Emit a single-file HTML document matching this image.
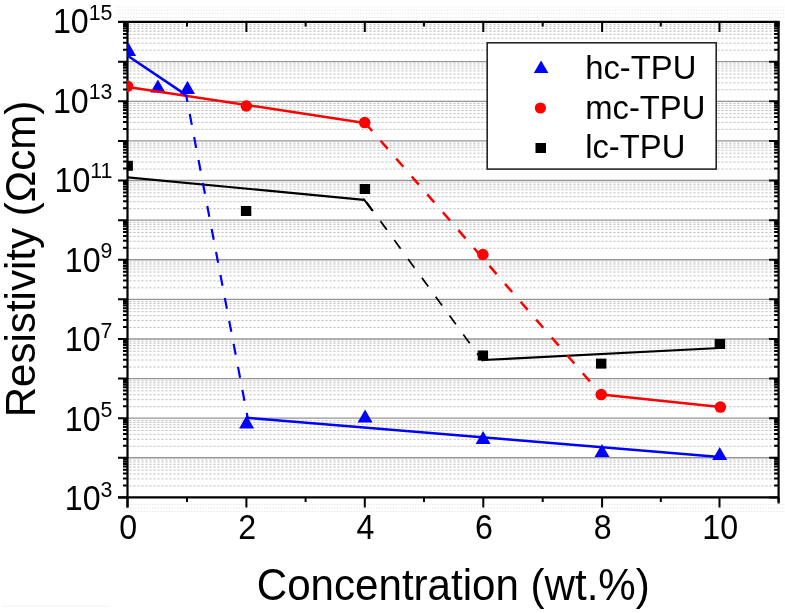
<!DOCTYPE html><html><head><meta charset="utf-8"><style>html,body{margin:0;padding:0;background:#fff}svg{display:block;filter:blur(0.35px)}</style></head><body>
<svg width="785" height="613" viewBox="0 0 785 613" font-family="'Liberation Sans', Arial, sans-serif">
<defs><clipPath id="pa"><rect x="127.10" y="21.90" width="651.50" height="475.50"/></clipPath></defs>
<rect width="785" height="613" fill="#fff"/>
<path d="M116.5 6.9H785M116.5 10.1H785M116.5 13.3H785M116.5 17.4H785M124.0 504.5H785M124.0 508.0H785M124.0 511.5H785M3 606.2H110" stroke="#e6e6e6" stroke-width="1" stroke-dasharray="1.3 1.5" fill="none"/>
<path d="M129.50 485.88H776.60M129.50 478.90H776.60M129.50 473.95H776.60M129.50 470.11H776.60M129.50 466.98H776.60M129.50 464.33H776.60M129.50 462.03H776.60M129.50 460.00H776.60M129.50 446.27H776.60M129.50 439.29H776.60M129.50 434.34H776.60M129.50 430.50H776.60M129.50 427.37H776.60M129.50 424.72H776.60M129.50 422.42H776.60M129.50 420.39H776.60M129.50 406.66H776.60M129.50 399.68H776.60M129.50 394.73H776.60M129.50 390.89H776.60M129.50 387.76H776.60M129.50 385.11H776.60M129.50 382.81H776.60M129.50 380.78H776.60M129.50 367.05H776.60M129.50 360.07H776.60M129.50 355.12H776.60M129.50 351.28H776.60M129.50 348.15H776.60M129.50 345.50H776.60M129.50 343.20H776.60M129.50 341.17H776.60M129.50 327.44H776.60M129.50 320.46H776.60M129.50 315.51H776.60M129.50 311.67H776.60M129.50 308.54H776.60M129.50 305.89H776.60M129.50 303.59H776.60M129.50 301.56H776.60M129.50 287.83H776.60M129.50 280.85H776.60M129.50 275.90H776.60M129.50 272.06H776.60M129.50 268.93H776.60M129.50 266.28H776.60M129.50 263.98H776.60M129.50 261.95H776.60M129.50 248.22H776.60M129.50 241.24H776.60M129.50 236.29H776.60M129.50 232.45H776.60M129.50 229.32H776.60M129.50 226.67H776.60M129.50 224.37H776.60M129.50 222.34H776.60M129.50 208.61H776.60M129.50 201.63H776.60M129.50 196.68H776.60M129.50 192.84H776.60M129.50 189.71H776.60M129.50 187.06H776.60M129.50 184.76H776.60M129.50 182.73H776.60M129.50 169.00H776.60M129.50 162.02H776.60M129.50 157.07H776.60M129.50 153.23H776.60M129.50 150.10H776.60M129.50 147.45H776.60M129.50 145.15H776.60M129.50 143.12H776.60M129.50 129.39H776.60M129.50 122.41H776.60M129.50 117.46H776.60M129.50 113.62H776.60M129.50 110.49H776.60M129.50 107.84H776.60M129.50 105.54H776.60M129.50 103.51H776.60M129.50 89.78H776.60M129.50 82.80H776.60M129.50 77.85H776.60M129.50 74.01H776.60M129.50 70.88H776.60M129.50 68.23H776.60M129.50 65.93H776.60M129.50 63.90H776.60M129.50 50.17H776.60M129.50 43.19H776.60M129.50 38.24H776.60M129.50 34.40H776.60M129.50 31.27H776.60M129.50 28.62H776.60M129.50 26.32H776.60M129.50 24.29H776.60" stroke="#b9b9b9" stroke-width="1" stroke-dasharray="2 2" fill="none"/>
<path d="M127.50 457.79H778.60M127.50 418.18H778.60M127.50 378.57H778.60M127.50 338.96H778.60M127.50 299.35H778.60M127.50 259.74H778.60M127.50 220.13H778.60M127.50 180.52H778.60M127.50 140.91H778.60M127.50 101.30H778.60M127.50 61.69H778.60" stroke="#959595" stroke-width="1.35" fill="none"/>
<rect x="487.2" y="42.8" width="229.0" height="126.3" fill="#fff" stroke="#262626" stroke-width="1.6"/>
<path d="M119.10 21.90H778.60M119.10 497.40H778.60M127.50 21.90V506.40M778.60 21.90V502.40" stroke="#000" stroke-width="2.2" fill="none" stroke-linecap="square"/>
<path d="M127.50 497.40V507.40M127.50 21.90V31.90M187.00 497.40V501.90M187.00 21.90V26.40M246.40 497.40V507.40M246.40 21.90V31.90M305.60 497.40V501.90M305.60 21.90V26.40M364.80 497.40V507.40M364.80 21.90V31.90M424.00 497.40V501.90M424.00 21.90V26.40M483.30 497.40V507.40M483.30 21.90V31.90M542.70 497.40V501.90M542.70 21.90V26.40M602.10 497.40V507.40M602.10 21.90V31.90M660.80 497.40V501.90M660.80 21.90V26.40M719.50 497.40V507.40M719.50 21.90V31.90M778.60 497.40V501.90M778.60 21.90V26.40M127.50 497.40H118.00M778.60 497.40H769.10M127.50 485.48H123.00M778.60 485.48H774.10M127.50 478.50H123.00M778.60 478.50H774.10M127.50 473.55H123.00M778.60 473.55H774.10M127.50 469.71H123.00M778.60 469.71H774.10M127.50 466.58H123.00M778.60 466.58H774.10M127.50 463.93H123.00M778.60 463.93H774.10M127.50 461.63H123.00M778.60 461.63H774.10M127.50 459.60H123.00M778.60 459.60H774.10M127.50 457.79H118.00M778.60 457.79H769.10M127.50 445.87H123.00M778.60 445.87H774.10M127.50 438.89H123.00M778.60 438.89H774.10M127.50 433.94H123.00M778.60 433.94H774.10M127.50 430.10H123.00M778.60 430.10H774.10M127.50 426.97H123.00M778.60 426.97H774.10M127.50 424.32H123.00M778.60 424.32H774.10M127.50 422.02H123.00M778.60 422.02H774.10M127.50 419.99H123.00M778.60 419.99H774.10M127.50 418.18H118.00M778.60 418.18H769.10M127.50 406.26H123.00M778.60 406.26H774.10M127.50 399.28H123.00M778.60 399.28H774.10M127.50 394.33H123.00M778.60 394.33H774.10M127.50 390.49H123.00M778.60 390.49H774.10M127.50 387.36H123.00M778.60 387.36H774.10M127.50 384.71H123.00M778.60 384.71H774.10M127.50 382.41H123.00M778.60 382.41H774.10M127.50 380.38H123.00M778.60 380.38H774.10M127.50 378.57H118.00M778.60 378.57H769.10M127.50 366.65H123.00M778.60 366.65H774.10M127.50 359.67H123.00M778.60 359.67H774.10M127.50 354.72H123.00M778.60 354.72H774.10M127.50 350.88H123.00M778.60 350.88H774.10M127.50 347.75H123.00M778.60 347.75H774.10M127.50 345.10H123.00M778.60 345.10H774.10M127.50 342.80H123.00M778.60 342.80H774.10M127.50 340.77H123.00M778.60 340.77H774.10M127.50 338.96H118.00M778.60 338.96H769.10M127.50 327.04H123.00M778.60 327.04H774.10M127.50 320.06H123.00M778.60 320.06H774.10M127.50 315.11H123.00M778.60 315.11H774.10M127.50 311.27H123.00M778.60 311.27H774.10M127.50 308.14H123.00M778.60 308.14H774.10M127.50 305.49H123.00M778.60 305.49H774.10M127.50 303.19H123.00M778.60 303.19H774.10M127.50 301.16H123.00M778.60 301.16H774.10M127.50 299.35H118.00M778.60 299.35H769.10M127.50 287.43H123.00M778.60 287.43H774.10M127.50 280.45H123.00M778.60 280.45H774.10M127.50 275.50H123.00M778.60 275.50H774.10M127.50 271.66H123.00M778.60 271.66H774.10M127.50 268.53H123.00M778.60 268.53H774.10M127.50 265.88H123.00M778.60 265.88H774.10M127.50 263.58H123.00M778.60 263.58H774.10M127.50 261.55H123.00M778.60 261.55H774.10M127.50 259.74H118.00M778.60 259.74H769.10M127.50 247.82H123.00M778.60 247.82H774.10M127.50 240.84H123.00M778.60 240.84H774.10M127.50 235.89H123.00M778.60 235.89H774.10M127.50 232.05H123.00M778.60 232.05H774.10M127.50 228.92H123.00M778.60 228.92H774.10M127.50 226.27H123.00M778.60 226.27H774.10M127.50 223.97H123.00M778.60 223.97H774.10M127.50 221.94H123.00M778.60 221.94H774.10M127.50 220.13H118.00M778.60 220.13H769.10M127.50 208.21H123.00M778.60 208.21H774.10M127.50 201.23H123.00M778.60 201.23H774.10M127.50 196.28H123.00M778.60 196.28H774.10M127.50 192.44H123.00M778.60 192.44H774.10M127.50 189.31H123.00M778.60 189.31H774.10M127.50 186.66H123.00M778.60 186.66H774.10M127.50 184.36H123.00M778.60 184.36H774.10M127.50 182.33H123.00M778.60 182.33H774.10M127.50 180.52H118.00M778.60 180.52H769.10M127.50 168.60H123.00M778.60 168.60H774.10M127.50 161.62H123.00M778.60 161.62H774.10M127.50 156.67H123.00M778.60 156.67H774.10M127.50 152.83H123.00M778.60 152.83H774.10M127.50 149.70H123.00M778.60 149.70H774.10M127.50 147.05H123.00M778.60 147.05H774.10M127.50 144.75H123.00M778.60 144.75H774.10M127.50 142.72H123.00M778.60 142.72H774.10M127.50 140.91H118.00M778.60 140.91H769.10M127.50 128.99H123.00M778.60 128.99H774.10M127.50 122.01H123.00M778.60 122.01H774.10M127.50 117.06H123.00M778.60 117.06H774.10M127.50 113.22H123.00M778.60 113.22H774.10M127.50 110.09H123.00M778.60 110.09H774.10M127.50 107.44H123.00M778.60 107.44H774.10M127.50 105.14H123.00M778.60 105.14H774.10M127.50 103.11H123.00M778.60 103.11H774.10M127.50 101.30H118.00M778.60 101.30H769.10M127.50 89.38H123.00M778.60 89.38H774.10M127.50 82.40H123.00M778.60 82.40H774.10M127.50 77.45H123.00M778.60 77.45H774.10M127.50 73.61H123.00M778.60 73.61H774.10M127.50 70.48H123.00M778.60 70.48H774.10M127.50 67.83H123.00M778.60 67.83H774.10M127.50 65.53H123.00M778.60 65.53H774.10M127.50 63.50H123.00M778.60 63.50H774.10M127.50 61.69H118.00M778.60 61.69H769.10M127.50 49.77H123.00M778.60 49.77H774.10M127.50 42.79H123.00M778.60 42.79H774.10M127.50 37.84H123.00M778.60 37.84H774.10M127.50 34.00H123.00M778.60 34.00H774.10M127.50 30.87H123.00M778.60 30.87H774.10M127.50 28.22H123.00M778.60 28.22H774.10M127.50 25.92H123.00M778.60 25.92H774.10M127.50 23.89H123.00M778.60 23.89H774.10M127.50 22.08H118.00M778.60 22.08H769.10" stroke="#000" stroke-width="2" fill="none"/>
<g clip-path="url(#pa)" fill="none" stroke-linecap="butt">
<path d="M128.60 42.70L136.10 55.90L121.10 55.90Z" fill="#0000ff" stroke="none"/>
<path d="M157.90 79.40L165.40 92.60L150.40 92.60Z" fill="#0000ff" stroke="none"/>
<path d="M187.50 80.70L195.00 93.90L180.00 93.90Z" fill="#0000ff" stroke="none"/>
<path d="M246.60 415.20L254.10 428.40L239.10 428.40Z" fill="#0000ff" stroke="none"/>
<path d="M365.10 409.40L372.60 422.60L357.60 422.60Z" fill="#0000ff" stroke="none"/>
<path d="M483.10 430.90L490.60 444.10L475.60 444.10Z" fill="#0000ff" stroke="none"/>
<path d="M602.00 443.90L609.50 457.10L594.50 457.10Z" fill="#0000ff" stroke="none"/>
<path d="M719.70 446.90L727.20 460.10L712.20 460.10Z" fill="#0000ff" stroke="none"/>
<path d="M127.70 177.40 L364.00 199.80" stroke="#000000" stroke-width="2.20"/>
<path d="M364.00 198.60 L482.90 361.30" stroke="#000000" stroke-width="1.70" stroke-dasharray="10.8 12.6" stroke-dashoffset="18.90"/>
<path d="M363.00 199.30 L364.00 199.40 L372.30 210.70" stroke="#000000" stroke-width="2.00"/>
<path d="M482.90 360.00 L719.90 348.00" stroke="#000000" stroke-width="2.20"/>
<rect x="122.50" y="160.80" width="10.4" height="10" fill="#000000" stroke="none"/>
<rect x="240.90" y="206.00" width="10.4" height="10" fill="#000000" stroke="none"/>
<rect x="359.70" y="184.00" width="10.4" height="10" fill="#000000" stroke="none"/>
<rect x="477.70" y="350.50" width="10.4" height="10" fill="#000000" stroke="none"/>
<rect x="596.00" y="358.60" width="10.4" height="10" fill="#000000" stroke="none"/>
<rect x="714.70" y="339.00" width="10.4" height="10" fill="#000000" stroke="none"/>
<path d="M127.70 86.90 L364.70 122.90" stroke="#ff0000" stroke-width="2.50"/>
<path d="M364.70 122.40 L601.20 394.40" stroke="#ff0000" stroke-width="2.50" stroke-dasharray="10.8 12.9" stroke-dashoffset="23.10"/>
<path d="M601.20 394.40 L720.40 406.90" stroke="#ff0000" stroke-width="2.50"/>
<circle cx="127.70" cy="86.20" r="5.75" fill="#ff0000" stroke="none"/>
<circle cx="246.30" cy="106.00" r="5.75" fill="#ff0000" stroke="none"/>
<circle cx="364.70" cy="122.60" r="5.75" fill="#ff0000" stroke="none"/>
<circle cx="482.90" cy="254.50" r="5.75" fill="#ff0000" stroke="none"/>
<circle cx="601.20" cy="394.60" r="5.75" fill="#ff0000" stroke="none"/>
<circle cx="720.40" cy="407.10" r="5.75" fill="#ff0000" stroke="none"/>
<path d="M127.70 55.80 L185.50 94.60" stroke="#0000ff" stroke-width="2.50"/>
<path d="M186.00 94.50 L247.70 417.70" stroke="#0000ff" stroke-width="2.20" stroke-dasharray="11 12.4" stroke-dashoffset="3.50"/>
<path d="M246.60 417.70 L719.70 457.00" stroke="#0000ff" stroke-width="2.50"/>
</g>
<g font-size="32.2" fill="#000">
<text transform="translate(128.20 539.2) scale(1 1.065)" text-anchor="middle">0</text>
<text transform="translate(247.10 539.2) scale(1 1.065)" text-anchor="middle">2</text>
<text transform="translate(365.50 539.2) scale(1 1.065)" text-anchor="middle">4</text>
<text transform="translate(484.00 539.2) scale(1 1.065)" text-anchor="middle">6</text>
<text transform="translate(602.80 539.2) scale(1 1.065)" text-anchor="middle">8</text>
<text transform="translate(720.20 539.2) scale(1 1.065)" text-anchor="middle">10</text>
<text transform="translate(112.4 510.30) scale(1 1.065)" text-anchor="end">10<tspan font-size="21.3" dy="-12.77">3</tspan></text>
<text transform="translate(112.4 430.74) scale(1 1.065)" text-anchor="end">10<tspan font-size="21.3" dy="-12.77">5</tspan></text>
<text transform="translate(112.4 351.18) scale(1 1.065)" text-anchor="end">10<tspan font-size="21.3" dy="-12.77">7</tspan></text>
<text transform="translate(112.4 271.62) scale(1 1.065)" text-anchor="end">10<tspan font-size="21.3" dy="-12.77">9</tspan></text>
<text transform="translate(112.4 192.06) scale(1 1.065)" text-anchor="end">10<tspan font-size="21.3" dy="-12.77">11</tspan></text>
<text transform="translate(112.4 112.50) scale(1 1.065)" text-anchor="end">10<tspan font-size="21.3" dy="-12.77">13</tspan></text>
<text transform="translate(112.4 32.94) scale(1 1.065)" text-anchor="end">10<tspan font-size="21.3" dy="-11.74">15</tspan></text>
</g>
<text transform="translate(453.3 599.9) scale(1 1.04)" font-size="42.1" text-anchor="middle">Concentration (wt.%)</text>
<text transform="translate(35.2 259) rotate(-90) scale(1 1.03)" font-size="42.1" text-anchor="middle">Resistivity (&#937;cm)</text>
<g font-size="32.8">
<text x="585.2" y="79.4">hc-TPU</text>
<text x="585.2" y="118.6">mc-TPU</text>
<text x="585.2" y="157.8">lc-TPU</text>
</g>
<path d="M541.1 60.5L548.4 73L533.8 73Z" fill="#0000ff"/>
<circle cx="540.4" cy="108" r="5.6" fill="#ff0000"/>
<rect x="535.5" y="143" width="10.5" height="10" fill="#000"/>
</svg></body></html>
